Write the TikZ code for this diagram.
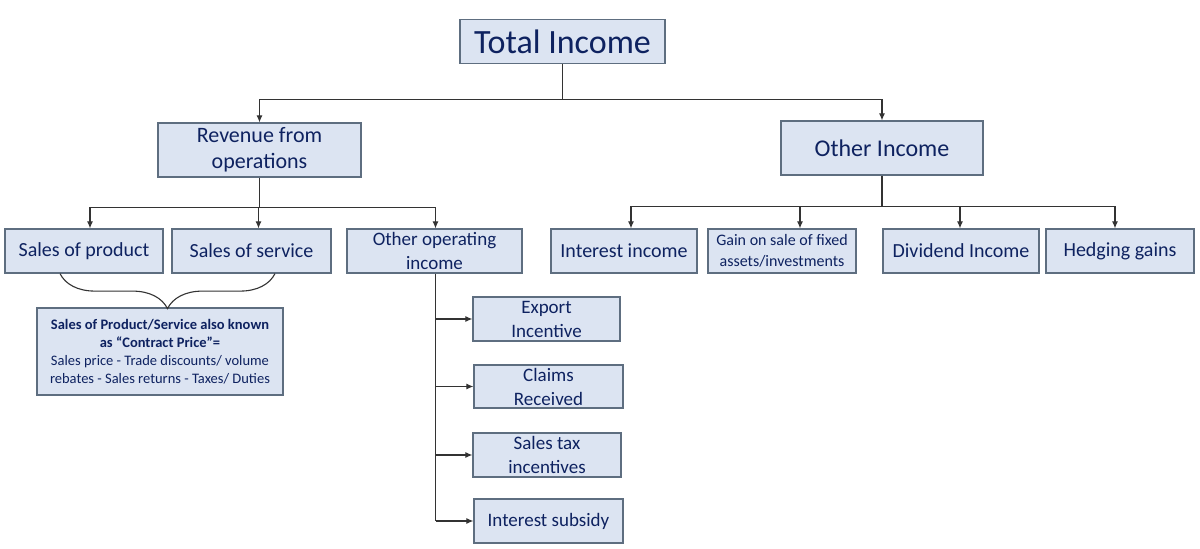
\documentclass[tikz,border=0pt]{standalone}
\usepackage{fontspec}
\setmainfont{Carlito}
\usetikzlibrary{arrows.meta,decorations.pathreplacing}
\definecolor{boxfill}{HTML}{DCE4F2}
\definecolor{boxline}{HTML}{5E6E80}
\definecolor{ink}{HTML}{0E2260}
\definecolor{wire}{HTML}{333333}
\tikzset{
  box/.style={draw=boxline,fill=boxfill,text=ink,align=center,inner sep=0pt,line width=1.2pt},
  arr/.style={draw=wire,line width=1.1pt,-{Latex[length=7pt,width=6pt]}},
  wire/.style={draw=wire,line width=1.1pt},
  fs/.style 2 args={font=\fontsize{#1}{#2}\selectfont}
}
\begin{document}
\begin{tikzpicture}[x=1pt,y=-1pt]
      \useasboundingbox[fill=white](0,0)rectangle(1200,549);
      % top
      \node[box,fs={34}{38},minimum width=205pt,minimum height=44pt](total) at (562.5,41.5){Total Income};
      \node[box,fs={22}{26},minimum width=203pt,minimum height=54pt](rev) at (259.5,150){Revenue from\\operations};
      \node[box,fs={24}{28},minimum width=202pt,minimum height=54pt](oth) at (882,148){Other Income};
      % second row
      \node[box,fs={20}{24},minimum width=158pt,minimum height=44pt](prod) at (84,251){Sales of product};
      \node[box,fs={20}{24},minimum width=159pt,minimum height=44pt](serv) at (251.5,251){Sales of service};
      \node[box,fs={19}{24},minimum width=175pt,minimum height=44pt](ooi) at (434.5,251){Other operating\\income};
      \node[box,fs={20}{24},minimum width=146pt,minimum height=44pt](inti) at (624,251){Interest income};
      \node[box,fs={16}{21},minimum width=148pt,minimum height=44pt](gain) at (782,251){Gain on sale of fixed\\assets/investments};
      \node[box,fs={20}{24},minimum width=156pt,minimum height=44pt](divi) at (961,251){Dividend Income};
      \node[box,fs={20}{24},minimum width=148pt,minimum height=44pt](hedg) at (1120,251){Hedging gains};
      % other operating income items
      \node[box,fs={19}{24},minimum width=147pt,minimum height=44pt](expo) at (546.5,319){Export\\Incentive};
      \node[box,fs={19}{24},minimum width=149pt,minimum height=43pt](clm) at (548.5,386.5){Claims\\Received};
      \node[box,fs={19}{24},minimum width=148pt,minimum height=44pt](stax) at (547,455){Sales tax\\incentives};
      \node[box,fs={19}{24},minimum width=149pt,minimum height=44pt](isub) at (548.5,521){Interest subsidy};
      % note under the brace
      \node[box,fs={14.5}{18},minimum width=246pt,minimum height=87pt](note) at (160,351.5){\textbf{Sales of Product/Service also known}\\\textbf{as “Contract Price”=}\\Sales price - Trade discounts/ volume\\rebates - Sales returns - Taxes/ Duties};
      % connectors
      \draw[wire](total.south)--++(0,35)coordinate(tj);
      \draw[arr](tj)-|(rev.north);
      \draw[arr](tj)-|(oth.north);
      \draw[wire](rev.south)--++(0,30)coordinate(rj);
      \foreach \n/\d in{prod/6,serv/7,ooi/1}{%
        \draw[arr](rj)-|([xshift=\d pt]\n.north);
      }
      \draw[wire](oth.south)--++(0,31)coordinate(oj);
      \foreach \n/\d in{inti/7,gain/18,divi/-1,hedg/-5}{%
        \draw[arr](oj)-|([xshift=\d pt]\n.north);
      }
      \draw[wire]([xshift=1pt]ooi.south)--([xshift=1pt]ooi.south|-isub.west);
      \foreach \n in{expo,clm,stax,isub}{%
        \draw[arr]([xshift=1pt]ooi.south|-\n.west)--(\n.west);
      }
      \draw[wire,decorate,decoration={brace,mirror,amplitude=35pt}](60,0|-prod.south)--(275,0|-serv.south);
    \end{tikzpicture}
\end{document}
